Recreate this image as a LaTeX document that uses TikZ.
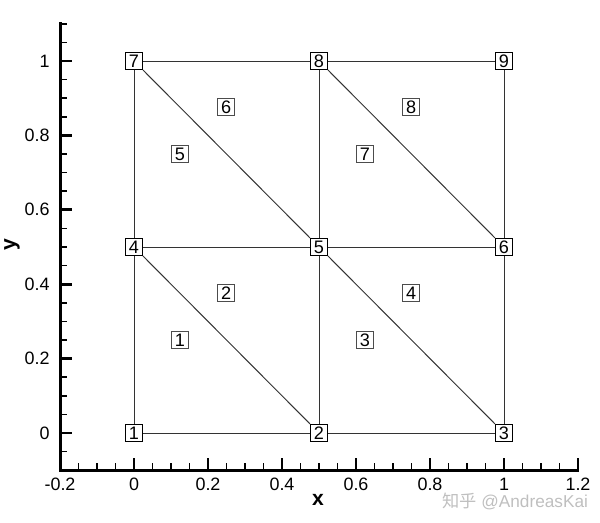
\documentclass[tikz,border=0pt]{standalone}
\usepackage{fontspec}
\setmainfont{Liberation Sans}
\newfontfamily\cjkfont{Noto Sans CJK SC}
\begin{document}
\begin{tikzpicture}[x=7.4cm,y=7.44cm,
  axisline/.style={line width=1.7pt,line cap=rect},
  majtick/.style={line width=1.6pt},
  mintick/.style={line width=0.9pt},
  meshline/.style={line width=0.55pt,draw=black!80},
  nodebox/.style={draw=black,line width=0.6pt,fill=white,inner sep=0pt,minimum size=0.34cm,font=\fontsize{10.3}{11}\selectfont},
  elembox/.style={draw=black!70,line width=0.6pt,fill=white,inner sep=0pt,minimum width=0.33cm,minimum height=0.35cm,font=\fontsize{10.3}{11}\selectfont},
  ticklabel/.style={font=\fontsize{10.2}{11}\selectfont,inner sep=0pt},
  axistitle/.style={font=\bfseries\fontsize{12}{13}\selectfont,inner sep=0pt}]
\useasboundingbox (-0.3622,-0.2419) rectangle (1.2595,1.164);
% axes
\coordinate (xa0) at (-0.2,-0.1);
\coordinate (xa1) at (1.2,-0.1);
\coordinate (ya1) at (-0.2,1.1);
\draw[axisline] (ya1) -- (xa0) -- (xa1);
% x ticks
\foreach \v in {-0.15,-0.1,...,1.16}{
  \draw[mintick] (\v,-0.1) -- ++(0,0.14cm);
}
\foreach \v in {0,0.2,0.4,0.6,0.8,1,1.2}{
  \draw[majtick] (\v,-0.1) -- ++(0,0.25cm);
}
\foreach \v/\t in {-0.2/-0.2,0/0,0.2/0.2,0.4/0.4,0.6/0.6,0.8/0.8,1/1,1.2/1.2}{
  \node[ticklabel,anchor=north] (xl\t) at ([yshift=-0.15cm]\v,-0.1) {\t};
}
% y ticks
\foreach \v in {-0.05,0,...,1.11}{
  \draw[mintick] (-0.2,\v) -- ++(0.14cm,0);
}
\foreach \v in {0,0.2,0.4,0.6,0.8,1}{
  \draw[majtick] (-0.2,\v) -- ++(0.23cm,0);
}
\foreach \v/\t in {0/0,0.2/0.2,0.4/0.4,0.6/0.6,0.8/0.8,1/1}{
  \node[ticklabel,anchor=east] (yl\t) at ([xshift=-0.2cm]-0.2,\v) {\t};
}
\node[axistitle] (xt) at (0.497,-0.181) {x};
\node[axistitle,rotate=90] (yt) at (-0.33,0.505) {y};
% mesh nodes
\node[nodebox] (n1) at (0,0) {1};
\node[nodebox] (n2) at (0.5,0) {2};
\node[nodebox] (n3) at (1,0) {3};
\node[nodebox] (n4) at (0,0.5) {4};
\node[nodebox] (n5) at (0.5,0.5) {5};
\node[nodebox] (n6) at (1,0.5) {6};
\node[nodebox] (n7) at (0,1) {7};
\node[nodebox] (n8) at (0.5,1) {8};
\node[nodebox] (n9) at (1,1) {9};
% mesh edges
\draw[meshline] (n1) -- (n2); \draw[meshline] (n2) -- (n3);
\draw[meshline] (n4) -- (n5); \draw[meshline] (n5) -- (n6);
\draw[meshline] (n7) -- (n8); \draw[meshline] (n8) -- (n9);
\draw[meshline] (n1) -- (n4); \draw[meshline] (n4) -- (n7);
\draw[meshline] (n2) -- (n5); \draw[meshline] (n5) -- (n8);
\draw[meshline] (n3) -- (n6); \draw[meshline] (n6) -- (n9);
\draw[meshline] (n4) -- (n2); \draw[meshline] (n7) -- (n5);
\draw[meshline] (n5) -- (n3); \draw[meshline] (n8) -- (n6);
% element labels
\node[elembox] (e1) at (0.124,0.25) {1};
\node[elembox] (e2) at (0.249,0.376) {2};
\node[elembox] (e3) at (0.624,0.25) {3};
\node[elembox] (e4) at (0.749,0.376) {4};
\node[elembox] (e5) at (0.124,0.75) {5};
\node[elembox] (e6) at (0.249,0.876) {6};
\node[elembox] (e7) at (0.624,0.75) {7};
\node[elembox] (e8) at (0.749,0.876) {8};
% watermark
\node[text=black!25,inner sep=0pt,font=\fontsize{9.8}{10}\selectfont] (wm) at (1.03,-0.183) {{\cjkfont 知乎} @AndreasKai};
\end{tikzpicture}
\end{document}
